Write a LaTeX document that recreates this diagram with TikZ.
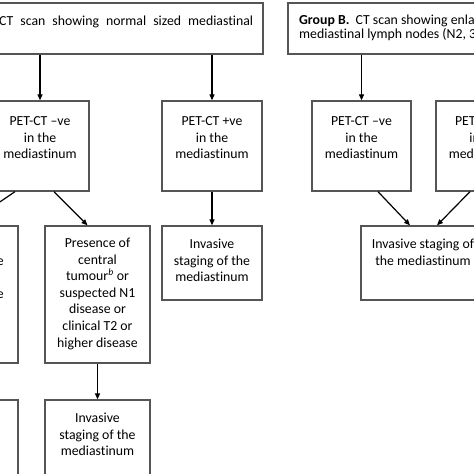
\documentclass[tikz,border=0pt]{standalone}
\usepackage{fontspec}
\setmainfont{Carlito}[Ligatures={TeX,NoCommon}]
\usetikzlibrary{arrows.meta, positioning}
\definecolor{boxgray}{RGB}{85,85,85}
\tikzset{
  box/.style={draw=boxgray, line width=1.3bp, inner sep=0pt},
  txt/.style={align=center, inner sep=0pt, font=\fontsize{13.8bp}{16.6bp}\selectfont},
  arr/.style={-{Triangle[length=6bp,width=5bp]}, line width=1.2bp},
}

\begin{document}
\begin{tikzpicture}[x=1bp, y=-1bp]
   \useasboundingbox (0,0) rectangle (474,474);
   \clip (0,0) rectangle (474,474);
   % top row
   \node[box, minimum width=513bp, minimum height=51bp] (grpA) at (6.5,28.5) {};
   \node[txt, anchor=base west] (grpAT) at (-1,25.5) {\makebox[254bp][s]{CT scan showing normal sized mediastinal}};
   \node[box, minimum width=513bp, minimum height=51bp] (grpB) at (544.5,28.5) {};
   \node[txt, align=left, anchor=north west, font=\fontsize{13.8bp}{12bp}\selectfont] (grpBT) at (299,15)
      {\textbf{Group B.}\ \ CT scan showing enlarged\\mediastinal lymph nodes (N2, 3)};
   % PET-CT row
   \node[box, minimum width=98bp, minimum height=90bp] (aNeg) at (40,146) {};
   \node[txt, below=16bp of aNeg.north] (aNegT) {PET-CT --ve\\in the\\mediastinum};
   \node[box, minimum width=100bp, minimum height=90bp] (aPos) at (212,146) {};
   \node[txt, below=16bp of aPos.north] (aPosT) {PET-CT +ve\\in the\\mediastinum};
   \node[box, minimum width=99bp, minimum height=90bp] (bNeg) at (361.5,146) {};
   \node[txt, below=16bp of bNeg.north] (bNegT) {PET-CT --ve\\in the\\mediastinum};
   \node[box, minimum width=99bp, minimum height=90bp] (bPos) at (485.5,146) {};
   \node[txt, below=16bp of bPos.north] (bPosT) {PET-CT +ve\\in the\\mediastinum};
   % third row
   \node[box, minimum width=105bp, minimum height=137bp] (aLow) at (-34.5,294.5) {};
   \node[txt, anchor=base east] (aLowA) at (4,265.5) {e};
   \node[txt, anchor=base east] (aLowB) at (4,298.5) {e};
   \node[box, minimum width=105bp, minimum height=137bp] (pres) at (97.5,294.5) {};
   \node[txt, below=12.5bp of pres.north] (presT)
      {Presence of\\central\\tumour\textsuperscript{\itshape b} or\\suspected N1\\disease or\\clinical T2 or\\higher disease};
   \node[box, minimum width=100bp, minimum height=74bp] (aInv) at (212,263) {};
   \node[txt, below=13.5bp of aInv.north] (aInvT) {Invasive\\staging of the\\mediastinum};
   \node[box, minimum width=124bp, minimum height=74bp] (bInv) at (423,263) {};
   \node[txt, below=13.5bp of bInv.north] (bInvT) {Invasive staging of\\the mediastinum};
   % bottom row
   \node[box, minimum width=105bp, minimum height=100bp] (aLow2) at (-34.5,450) {};
   \node[box, minimum width=105bp, minimum height=100bp] (presInv) at (97.5,450) {};
   \node[txt, below=13.5bp of presInv.north] (presInvT) {Invasive\\staging of the\\mediastinum};
   % arrows
   \draw[arr] (aNeg.north |- grpA.south) -- (aNeg.north);
   \draw[arr] (aPos.north |- grpA.south) -- (aPos.north);
   \draw[arr] (bNeg.north |- grpB.south) -- (bNeg.north);
   \draw[arr] ([xshift=-25bp]aNeg.south) -- (aLow.north);
   \draw[arr] ([xshift=14bp]aNeg.south) -- ([xshift=-10bp]pres.north);
   \draw[arr] (aPos.south) -- (aInv.north);
   \draw[arr] (pres.south) -- (presInv.north);
   \draw[arr] ([xshift=16.5bp]bNeg.south) -- ([xshift=-13bp]bInv.north);
   \draw[arr] ([xshift=-15.5bp]bPos.south) -- ([xshift=14bp]bInv.north);
\end{tikzpicture}
\end{document}
